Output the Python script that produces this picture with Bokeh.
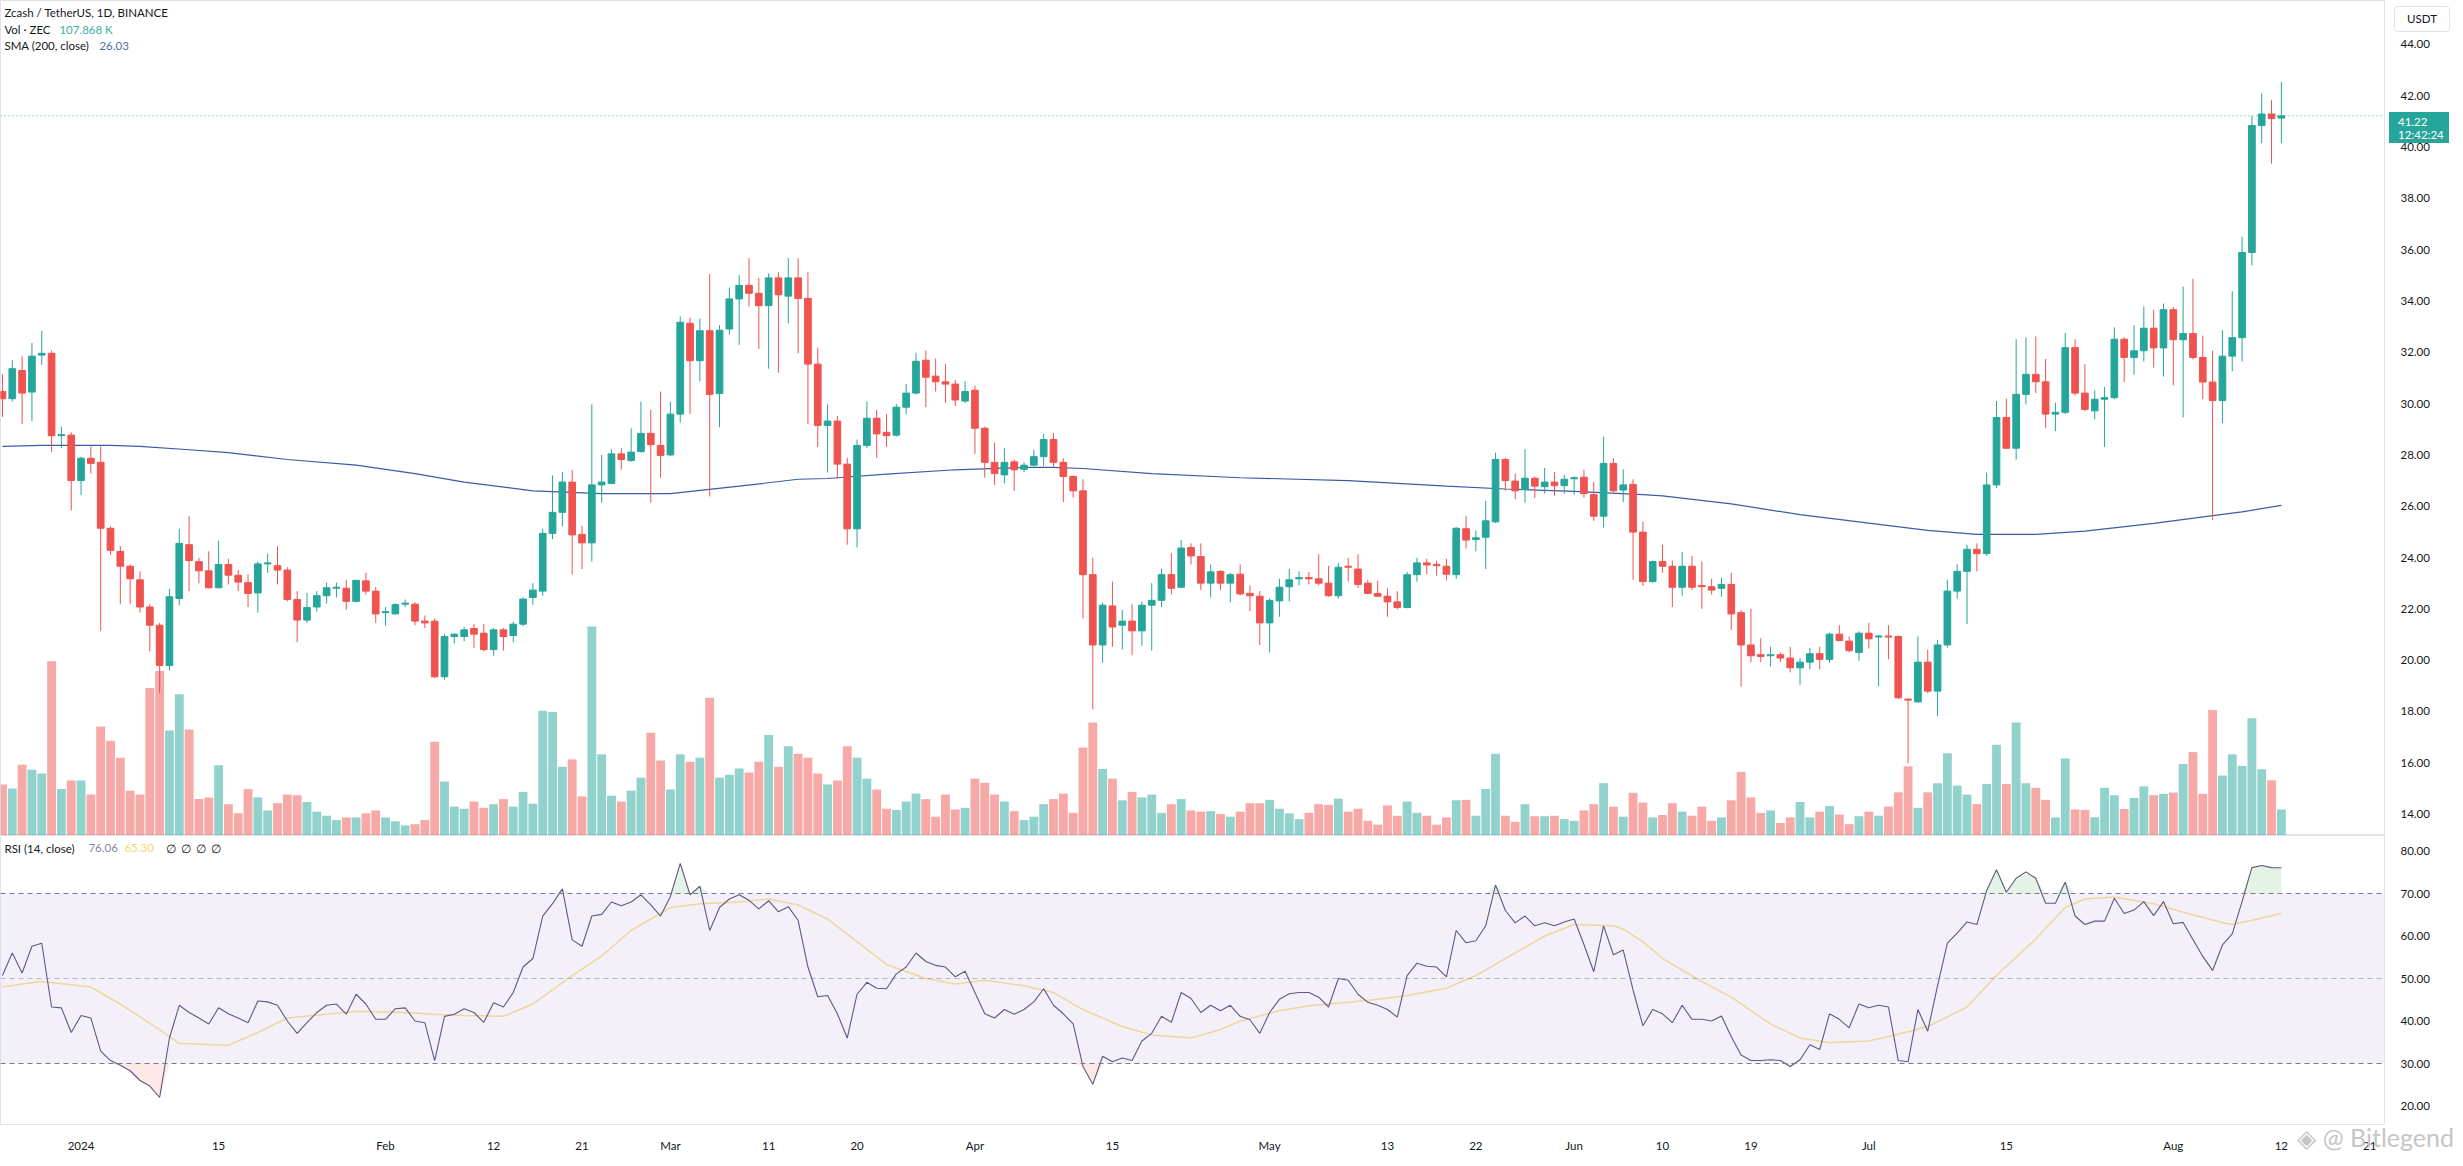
import pandas as pd
from bokeh.plotting import figure
from bokeh.layouts import column
from bokeh.models import (ColumnDataSource, Range1d, FixedTicker, Span, BoxAnnotation,
                          Label, PrintfTickFormatter, Div)
from bokeh.embed import file_html
from bokeh.resources import INLINE

# ---------------- data ----------------
start_date = "2023-12-24"

open_ = [
30.47,30.19,31.29,30.45,31.89,31.96,28.75,28.77,27.00,27.87,
27.71,25.14,24.24,23.66,23.13,22.07,21.36,19.79,22.40,24.50,
23.84,23.48,22.82,23.73,23.31,23.02,22.62,23.75,23.68,23.51,
22.36,21.56,22.07,22.51,22.80,22.80,22.29,23.09,22.69,21.85,
21.80,22.18,22.18,21.52,21.52,19.35,20.92,20.92,21.23,21.05,
20.41,21.18,20.96,21.40,22.44,22.69,24.94,25.76,26.94,24.90,
24.57,26.83,26.89,28.04,27.78,28.13,28.84,28.37,28.00,29.59,
33.13,31.67,32.84,30.39,32.91,34.08,34.61,34.30,33.82,34.90,
34.19,34.90,34.10,31.54,29.15,29.32,27.64,25.12,28.37,29.43,
28.88,28.77,29.86,30.41,31.69,31.07,30.85,30.76,30.10,30.52,
29.04,27.71,27.22,27.73,27.44,27.60,27.93,28.60,27.71,27.16,
26.60,23.33,20.59,22.11,21.36,21.52,21.14,22.14,22.33,23.33,
22.84,24.39,24.04,23.00,23.46,23.00,23.35,22.60,22.49,21.45,
22.31,22.86,23.17,23.22,23.17,23.00,22.51,23.66,23.55,23.00,
22.60,22.49,22.27,22.05,23.33,23.79,23.73,23.66,23.33,25.12,
24.70,24.79,25.39,27.82,26.98,26.65,27.09,26.76,26.94,26.80,
27.07,27.13,26.45,25.61,27.67,26.63,26.85,24.99,23.06,23.84,
23.66,22.84,23.66,22.91,22.86,22.80,22.95,21.85,20.59,20.21,
20.17,20.21,20.08,19.70,19.92,20.25,20.03,21.01,20.74,20.30,
21.05,20.90,20.94,20.92,18.48,18.37,19.92,18.79,20.59,22.69,
23.46,24.32,24.15,26.83,29.46,28.26,30.36,31.14,30.85,29.59,
29.66,32.18,30.41,29.72,30.17,30.23,32.51,31.80,32.06,32.94,
32.17,33.66,32.49,32.73,31.80,30.84,30.12,31.85,32.57,35.89,
40.84,41.29,41.13]

high_ = [
31.14,31.69,31.85,32.36,32.84,32.07,29.10,28.88,27.93,28.33,
28.33,25.21,24.44,23.73,23.46,22.18,21.45,22.78,25.12,25.61,
23.99,24.24,24.66,23.95,23.51,23.35,23.84,24.15,24.44,23.62,
22.69,22.62,22.69,23.02,23.02,23.13,23.13,23.40,22.84,22.07,
22.22,22.36,22.25,21.74,21.63,21.01,21.05,21.29,21.40,21.40,
21.25,21.25,21.49,22.44,23.00,25.12,27.20,27.33,27.42,25.23,
29.97,28.00,28.22,28.26,29.04,30.08,29.75,30.47,30.08,33.40,
33.35,33.31,35.05,33.06,34.52,35.01,35.67,34.90,35.08,35.12,
35.67,35.67,35.12,32.18,29.97,29.52,27.89,28.60,30.08,29.75,
29.59,29.99,30.76,31.98,32.07,31.76,31.54,30.92,30.87,30.70,
29.10,28.48,28.26,27.82,27.71,28.20,28.82,28.86,27.87,27.20,
27.05,23.99,22.25,23.06,21.96,22.18,22.29,23.00,23.57,24.17,
24.68,24.55,24.55,23.73,23.51,23.40,23.73,22.91,22.69,22.40,
23.17,23.55,23.46,23.44,24.13,23.68,23.79,23.99,24.13,23.13,
23.09,22.80,22.69,23.44,23.99,23.95,23.88,23.95,25.19,25.61,
25.05,26.21,28.09,27.89,27.27,28.22,27.16,27.49,27.33,27.22,
27.16,27.42,26.94,28.71,27.87,27.44,27.05,25.39,23.88,24.50,
23.88,24.21,24.06,23.84,23.17,23.22,23.40,21.96,22.00,20.85,
20.52,20.30,20.52,20.08,20.48,20.52,21.07,21.36,20.92,21.12,
21.45,20.96,21.36,20.96,18.50,20.92,20.41,20.79,23.13,23.73,
24.50,24.55,27.31,30.10,30.19,32.51,32.58,32.62,31.74,30.03,
32.75,32.51,31.54,30.52,30.65,32.97,32.59,33.05,33.79,33.66,
33.90,33.77,34.56,34.86,32.65,32.06,32.86,34.38,36.51,41.21,
42.09,41.83,42.54]

low_ = [
29.48,30.08,29.21,29.32,31.51,28.11,28.26,25.83,26.43,27.27,
21.14,24.10,22.18,22.18,21.85,20.34,18.71,19.59,22.14,22.69,
23.00,22.78,22.80,22.95,22.69,22.07,21.85,23.40,22.95,22.29,
20.70,21.45,21.89,22.20,22.44,21.96,22.25,22.56,21.45,21.34,
21.78,22.07,21.36,21.25,19.30,19.24,20.65,20.74,20.48,20.34,
20.17,20.37,20.70,21.32,22.16,22.51,24.72,25.21,23.33,23.55,
23.84,26.14,26.85,27.42,27.73,28.09,26.14,27.11,27.95,29.26,
29.59,30.87,26.38,29.08,32.69,32.29,33.79,32.13,31.36,31.20,
33.13,31.96,29.19,28.31,27.31,27.09,24.50,24.39,28.26,27.89,
28.31,28.71,29.59,30.36,29.86,30.47,30.03,29.90,30.03,28.04,
27.11,26.83,26.89,26.60,27.33,27.56,27.56,27.56,26.16,26.34,
21.63,18.09,19.90,20.52,20.41,20.19,20.56,20.37,22.07,22.56,
22.80,23.73,22.73,22.44,22.73,22.25,22.51,21.91,20.59,20.30,
21.69,22.29,22.91,22.95,22.91,22.47,22.40,23.06,22.82,22.56,
22.47,21.69,21.98,22.02,23.06,23.35,23.29,23.11,23.17,24.35,
24.24,23.55,25.34,26.60,26.27,26.14,26.32,26.49,26.40,26.49,
26.45,26.34,25.43,25.17,26.54,26.16,23.13,22.89,23.02,23.40,
22.07,22.51,22.73,22.00,22.56,22.47,21.18,18.97,19.92,19.92,
19.75,19.92,19.52,19.04,19.64,19.64,19.90,20.74,20.30,19.97,
20.45,18.97,20.03,18.48,15.98,18.35,18.71,17.82,20.48,22.40,
21.40,23.46,24.06,26.71,28.24,27.82,29.97,30.41,29.04,28.93,
29.59,30.32,29.70,29.38,28.31,30.17,30.84,31.13,31.64,31.40,
31.05,30.71,29.46,31.72,30.17,25.47,29.24,31.26,31.64,35.39,
40.15,39.35,40.15]

close_ = [
30.19,31.36,30.41,31.85,31.96,28.75,28.79,27.00,27.87,27.67,
25.14,24.28,23.66,23.17,22.07,21.36,19.79,22.47,24.55,23.88,
23.48,22.82,23.73,23.31,23.04,22.60,23.75,23.79,23.51,22.36,
21.56,22.05,22.51,22.82,22.84,22.29,23.11,22.69,21.80,21.89,
22.16,22.22,21.52,21.45,19.35,20.92,21.01,21.18,21.01,20.41,
21.18,20.92,21.40,22.38,22.73,24.94,25.76,26.94,24.88,24.57,
26.83,26.94,28.04,27.82,28.11,28.84,28.40,27.98,29.59,33.17,
31.67,32.84,30.36,32.86,34.08,34.61,34.30,33.82,34.90,34.24,
34.90,34.10,31.54,29.15,29.32,27.64,25.12,28.37,29.43,28.82,
28.75,29.86,30.41,31.65,31.03,30.85,30.76,30.14,30.47,29.04,
27.71,27.27,27.71,27.42,27.60,27.93,28.60,27.71,27.16,26.60,
23.33,20.59,22.14,21.29,21.52,21.14,22.14,22.33,23.33,22.80,
24.37,24.06,23.00,23.44,23.00,23.33,22.58,22.51,21.45,22.33,
22.84,23.13,23.22,23.17,23.00,22.51,23.62,23.62,22.95,22.60,
22.49,22.27,22.05,23.33,23.79,23.71,23.68,23.35,25.14,24.68,
24.77,25.43,27.82,27.00,26.60,27.09,26.78,26.94,26.80,27.05,
27.11,26.49,25.61,27.67,26.60,26.83,24.99,23.06,23.84,23.66,
22.84,23.66,22.84,22.86,22.73,22.95,21.80,20.59,20.17,20.14,
20.21,20.08,19.70,19.92,20.25,20.03,21.01,20.76,20.37,21.05,
20.83,20.94,20.90,18.53,18.44,19.92,18.79,20.59,22.69,23.46,
24.32,24.15,26.83,29.46,28.26,30.36,31.14,30.85,29.59,29.66,
32.18,30.41,29.77,30.17,30.23,32.51,31.80,32.06,32.94,32.17,
33.66,32.49,32.73,31.80,30.84,30.12,31.85,32.57,35.89,40.84,
41.29,41.11,41.22]

volume_k = [
212,195,294,273,257,723,193,228,228,170,452,393,323,186,170,612,683,436,586,440,
151,158,292,130,92,193,158,104,134,170,167,139,99,82,64,75,75,92,104,75,59,42,
47,64,389,224,120,111,141,115,130,151,120,181,132,518,513,285,316,162,867,337,
165,141,186,240,426,311,191,337,306,323,572,240,252,278,261,306,417,285,370,339,323,257,
212,228,370,323,236,191,111,106,141,174,151,78,170,108,115,236,219,170,141,101,
64,78,130,151,174,94,365,469,276,236,146,181,158,170,94,130,151,104,99,101,89,78,99,
134,134,148,111,92,68,94,130,127,153,99,111,61,45,125,82,141,94,82,45,
75,146,148,82,193,339,82,57,130,80,80,82,68,61,104,130,217,120,78,177,137,75,85,
134,99,82,120,61,75,146,264,158,94,104,52,75,139,75,99,122,87,47,80,
99,82,120,179,287,115,179,217,341,207,170,130,214,377,214,469,217,198,148,75,320,108,106,
76,198,167,110,156,204,167,173,178,297,346,173,521,249,337,289,487,275,229,107.868]

rsi = [
50.7,56.0,51.3,57.6,58.3,43.3,43.1,37.3,41.3,40.7,32.9,30.7,29.6,28.3,26.0,24.7,22.0,36.0,43.7,42.0,
40.7,39.3,43.1,41.7,40.7,39.6,44.7,44.5,43.7,40.0,37.1,39.6,42.0,43.7,44.0,41.6,46.3,44.0,40.4,40.4,
42.9,43.1,
40.0,39.6,30.7,41.1,41.6,42.9,42.0,39.7,44.3,43.3,46.7,52.7,54.7,64.7,67.6,71.1,59.1,57.6,64.7,65.1,
68.0,67.1,68.0,69.7,67.3,64.7,69.3,77.1,69.7,71.7,61.3,66.7,68.7,69.7,68.4,66.4,68.3,65.7,66.9,63.7,
52.7,45.7,
46.0,41.7,36.0,46.3,49.1,47.7,47.6,51.1,52.7,56.0,54.0,53.1,52.7,50.4,51.7,46.7,41.7,40.7,42.7,41.6,
42.7,44.5,47.6,43.7,41.7,39.3,29.3,25.1,31.7,30.4,31.3,30.7,35.3,37.1,41.1,39.7,46.7,45.3,42.0,43.7,
42.4,43.7,41.1,
40.3,37.1,42.0,45.1,46.4,46.7,46.7,45.6,43.3,50.0,49.6,46.3,44.4,43.7,42.7,40.9,50.7,53.6,52.9,52.7,
50.4,61.3,58.4,58.9,62.4,72.0,66.0,63.1,64.7,62.4,63.1,62.4,63.3,64.0,58.0,51.6,62.4,55.6,56.7,47.3,
38.9,42.7,41.7,
39.6,43.7,40.4,40.4,40.0,41.2,36.3,32.0,30.7,30.7,30.9,30.7,29.3,30.9,34.4,33.3,41.7,40.4,38.4,44.0,
43.1,43.7,43.3,30.7,30.4,42.7,37.6,48.3,58.3,60.7,63.3,62.7,70.7,75.6,70.3,73.6,75.1,73.6,67.7,67.7,
72.7,64.7,62.7,
63.5,63.5,68.9,65.3,66.1,68.1,64.8,68.1,62.9,63.2,59.2,55.2,51.9,57.9,60.5,68.1,76.1,76.6,76.1,76.06]

rsi_ma_idx = [0,2,4,9,12,16,18,23,26,29,33,36,41,44,47,51,54,58,61,64,68,71,75,78,81,84,87,90,94,97,
              100,104,107,110,114,117,121,124,126,130,133,137,140,143,147,150,153,157,160,164,
              165,167,169,173,176,180,183,186,190,193,196,200,203,207,210,212,215,219,222,226,227,229,232]
rsi_ma = [48.0,48.7,49.3,48.0,44.0,38.0,34.7,34.3,37.3,40.7,41.6,42.3,42.0,41.6,41.3,41.1,44.0,50.7,55.3,61.3,
          66.7,67.6,68.0,68.7,67.3,64.0,58.7,53.3,50.0,48.7,49.6,48.3,46.7,42.7,38.7,36.7,36.0,38.0,40.0,42.4,
          43.6,44.4,45.1,46.0,47.7,50.7,54.7,60.0,62.7,62.4,61.6,58.7,54.7,49.3,45.6,39.3,36.0,34.9,35.3,36.9,
          38.7,43.3,50.7,59.3,66.7,68.7,69.2,67.6,65.6,63.2,62.7,63.7,65.3]

sma_idx = [0,4,11,14,19,23,29,36,42,47,54,61,68,75,81,84,90,97,104,107,110,117,126,137,147,153,160,167,
           169,176,183,190,196,201,207,212,219,226,228,232]
sma200 = [28.33,28.37,28.37,28.33,28.20,28.09,27.82,27.60,27.27,26.94,26.60,26.49,26.49,26.78,27.05,27.08,
          27.25,27.42,27.51,27.51,27.47,27.27,27.11,27.00,26.78,26.67,26.58,26.45,26.40,26.09,25.67,25.34,
          25.06,24.90,24.90,25.03,25.33,25.68,25.78,26.03]

price_ticks = [14, 16, 18, 20, 22, 24, 26, 28, 30, 32, 34, 36, 38, 40, 42, 44]
rsi_ticks = [20, 30, 40, 50, 60, 70, 80]
tick_dates = ["2024-01-01", "2024-01-15", "2024-02-01", "2024-02-12", "2024-02-21", "2024-03-01",
              "2024-03-11", "2024-03-20", "2024-04-01", "2024-04-15", "2024-05-01", "2024-05-13",
              "2024-05-22", "2024-06-01", "2024-06-10", "2024-06-19", "2024-07-01", "2024-07-15",
              "2024-08-01", "2024-08-12", "2024-08-21"]
tick_texts = ["2024", "15", "Feb", "12", "21", "Mar", "11", "20", "Apr", "15", "May", "13", "22",
              "Jun", "10", "19", "Jul", "15", "Aug", "12", "21"]

last_time = "12:42:24"
quote_ccy = "USDT"
watermark = "@ Bitlegend"

# ---------------- derived ----------------
n = len(close_)
dates = pd.date_range(start_date, periods=n, freq="D")
t0 = dates[0]
xs = [(d - t0).days for d in dates]
tick_pos = [(pd.Timestamp(d) - t0).days for d in tick_dates]

UP = "#26a69a"
DOWN = "#ef5350"
colors = [UP if c >= o else DOWN for o, c in zip(open_, close_)]
src = ColumnDataSource(dict(
    x=xs, open=open_, high=high_, low=low_, close=close_,
    top=[max(o, c) for o, c in zip(open_, close_)],
    bottom=[min(o, c) for o, c in zip(open_, close_)],
    color=colors, volume=volume_k))

FONT = "Lato"
TXT = "#131722"
FS = "11.5px"
FW = 2384          # frame width (px)
FH1 = 835          # price panel frame height
FH2 = 289          # RSI panel frame height
P_LO, P_HI = 13.162, 45.715
X_RANGE = Range1d(-0.2, 242.5)

# ---------------- price panel ----------------
p = figure(frame_width=FW, frame_height=FH1, x_range=X_RANGE, y_range=Range1d(P_LO, P_HI),
           output_backend="svg", toolbar_location=None, x_axis_type=None,
           y_axis_location="right", min_border_left=0, min_border_right=63,
           min_border_top=0, min_border_bottom=0,
           background_fill_color="white", border_fill_color="white",
           outline_line_color="#e0e3eb")
p.grid.visible = False
p.extra_y_ranges = {"vol": Range1d(0, 3465)}

p.vbar(x="x", top="volume", bottom=0, width=0.9, fill_color="color", fill_alpha=0.5,
       line_color=None, y_range_name="vol", source=src)
p.line(sma_idx, sma200, line_color="#3b5ba5", line_width=1.2)
p.add_layout(Span(location=close_[-1], dimension="width", line_color=UP,
                  line_dash="1 3", line_width=1))
p.segment(x0="x", y0="low", x1="x", y1="high", line_color="color", line_width=1, source=src)
p.vbar(x="x", top="top", bottom="bottom", width=0.68, fill_color="color",
       line_color="color", line_width=1, source=src)

ya = p.yaxis[0]
ya.ticker = FixedTicker(ticks=price_ticks)
ya.formatter = PrintfTickFormatter(format="%.2f")
ya.major_tick_line_color = None
ya.minor_tick_line_color = None
ya.axis_line_color = None
ya.major_label_text_font_size = FS
ya.major_label_text_font = FONT
ya.major_label_text_color = TXT
ya.major_label_standoff = 10

def lab(fig, x, y, text, color=TXT, xoff=0, **kw):
    fig.add_layout(Label(x=x, y=y, x_units="data", y_units="data", x_offset=xoff,
                         text=text, text_color=color, text_font=FONT,
                         text_font_size=kw.pop("size", FS), text_baseline="middle", **kw))

lab(p, 0.2, 45.25, "Zcash / TetherUS, 1D, BINANCE")
lab(p, 0.2, 44.58, "Vol · ZEC")
lab(p, 0.2, 44.58, f"{volume_k[-1]:.3f} K", color="#3eaf9f", xoff=55)
lab(p, 0.2, 43.96, "SMA (200, close)")
lab(p, 0.2, 43.96, f"{sma200[-1]:.2f}", color="#4f6fa8", xoff=95)

# ---------------- RSI panel ----------------
r = figure(frame_width=FW, frame_height=FH2, x_range=X_RANGE, y_range=Range1d(15.65, 83.65),
           output_backend="svg", toolbar_location=None, y_axis_location="right",
           min_border_left=0, min_border_right=63, min_border_top=0, min_border_bottom=26,
           background_fill_color="white", border_fill_color="white",
           outline_line_color="#e0e3eb")
r.grid.visible = False
r.add_layout(BoxAnnotation(bottom=30, top=70, fill_color="#7e57c2", fill_alpha=0.09, line_color=None))
r.varea(x=xs, y1=[70] * n, y2=[max(v, 70) for v in rsi], fill_color="#4caf50", fill_alpha=0.15)
r.varea(x=xs, y1=[min(v, 30) for v in rsi], y2=[30] * n, fill_color="#f44336", fill_alpha=0.12)
for lvl, a in ((70, 1.0), (50, 0.5), (30, 1.0)):
    r.add_layout(Span(location=lvl, dimension="width", line_color="#787b86",
                      line_alpha=a, line_dash="5 4", line_width=1))
r.line(rsi_ma_idx, rsi_ma, line_color="#f8e59a", line_width=1.5)
r.line(xs, rsi, line_color="#5f5880", line_width=1.1)

ra = r.yaxis[0]
ra.ticker = FixedTicker(ticks=rsi_ticks)
ra.formatter = PrintfTickFormatter(format="%.2f")
ra.major_tick_line_color = None
ra.minor_tick_line_color = None
ra.axis_line_color = None
ra.major_label_text_font_size = FS
ra.major_label_text_font = FONT
ra.major_label_text_color = TXT
ra.major_label_standoff = 10

xa = r.xaxis[0]
xa.ticker = FixedTicker(ticks=tick_pos)
xa.major_label_overrides = {int(k): v for k, v in zip(tick_pos, tick_texts)}
xa.major_tick_line_color = None
xa.minor_tick_line_color = None
xa.axis_line_color = None
xa.major_label_text_font_size = FS
xa.major_label_text_font = FONT
xa.major_label_text_color = TXT
xa.major_label_standoff = 8

lab(r, 0.2, 80.6, "RSI (14, close)")
lab(r, 0.2, 80.6, f"{rsi[-1]:.2f}", color="#8a84a6", xoff=84)
lab(r, 0.2, 80.6, f"{rsi_ma[-1]:.2f}", color="#eedc6a", xoff=120)
for k in range(4):
    lab(r, 0.2, 80.6, "∅", xoff=162 + 15 * k)

# ---------------- overlays in the price-scale column (HTML text) ----------------
px_per_price = FH1 / (P_HI - P_LO)
tag_top = round((P_HI - close_[-1]) * px_per_price) - 8
overlay_html = (
    f'<div style="position:absolute;left:{FW}px;top:{tag_top}px;width:60px;height:31px;'
    f'box-sizing:border-box;padding:3px 0 0 9px;background:{UP};color:#ffffff;'
    f'font-family:Lato;font-size:11.5px;line-height:13px;">{close_[-1]:.2f}<br>{last_time}</div>'
    f'<div style="position:absolute;left:{FW + 5}px;top:1px;width:56px;height:26px;'
    f'box-sizing:border-box;border:1px solid #e0e3eb;border-radius:4px;background:#ffffff;'
    f'color:{TXT};font-family:Lato;font-size:11.5px;line-height:24px;text-align:center;">{quote_ccy}</div>'
    f'<div style="position:absolute;left:{FW - 190}px;top:{FH1 + FH2 - 6}px;width:255px;'
    f'text-align:right;color:#c6c6c6;font-family:Lato;font-size:25px;line-height:28px;'
    f'white-space:nowrap;">&#9672; {watermark}</div>'
)
overlay = Div(text=overlay_html, width=FW + 63, height=FH1 + FH2 + 26,
              styles={"position": "absolute", "left": "0px", "top": "0px",
                      "pointer-events": "none", "overflow": "visible"})

layout = column(p, r, overlay, spacing=0)
open("out.html", "w").write(file_html(layout, INLINE, title="Zcash / TetherUS"))
